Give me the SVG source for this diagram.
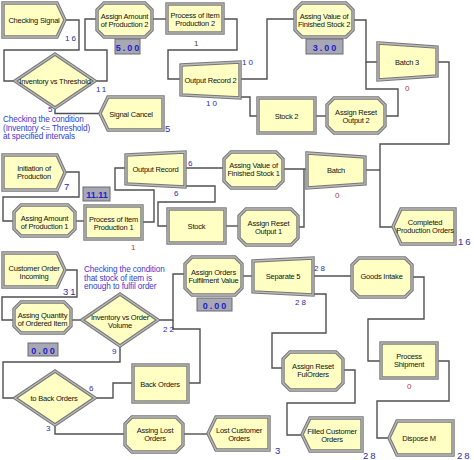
<svg xmlns="http://www.w3.org/2000/svg" width="474" height="460" viewBox="0 0 474 460">
<style>
.sh{fill:#ffffc4;stroke:#777;stroke-width:3.4;stroke-linejoin:miter}
.hl{fill:none;stroke:#bbb;stroke-width:1.3;stroke-linejoin:miter}
.t{font-family:"Liberation Sans",Arial,sans-serif;font-size:7.5px;letter-spacing:-0.2px;text-anchor:middle;fill:#111}
.cn{fill:none;stroke:#505050;stroke-width:1.4}
.n{font-family:"Liberation Sans",Arial,sans-serif;font-size:8px;fill:#2b2ba6;letter-spacing:2px}
.nb{font-size:9.5px}
.r{fill:#b83a32}
.an{font-family:"Liberation Sans",Arial,sans-serif;font-size:8.2px;fill:#3a3ad0;letter-spacing:-0.1px}
.vb{fill:#a8a8b4;stroke:#6a6a74;stroke-width:1}
.vt{font-family:"Liberation Sans",Arial,sans-serif;font-size:9px;font-weight:bold;fill:#2222c8;letter-spacing:2px;text-anchor:middle}
</style>
<rect width="474" height="460" fill="#ffffff"/>
<g id="connectors">
<path class="cn" d="M65,20 H79 V50 H4 V81 H15"/>
<path class="cn" d="M95,81 H107 V50 H85 V19 H97"/>
<path class="cn" d="M55,108 V113.5 H100"/>
<path class="cn" d="M152,19 H167"/>
<path class="cn" d="M223,19 H237 V50 H168 V79 H181"/>
<path class="cn" d="M240,79 H267 V19 H295"/>
<path class="cn" d="M240,97 H250 V116 H258"/>
<path class="cn" d="M315,116 H327"/>
<path class="cn" d="M353,20 H366 V62 H378"/>
<path class="cn" d="M385,116 H398 V89 H366 V62"/>
<path class="cn" d="M437,62 H449 V144 H380 V227 H393"/>
<path class="cn" d="M365,170 H380"/>
<path class="cn" d="M65,172 H79 V197 H3 V221 H14"/>
<path class="cn" d="M75,221 H85"/>
<path class="cn" d="M142,222 H154 V190 H115 V168 H126"/>
<path class="cn" d="M185,168 H224"/>
<path class="cn" d="M185,186 H215 V202 H158 V226 H168"/>
<path class="cn" d="M283,169 H307 M304,169 V227 H298"/>
<path class="cn" d="M225,226 H239"/>
<path class="cn" d="M65,270 H77 V297 H2 V320 H14"/>
<path class="cn" d="M71,320 H82"/>
<path class="cn" d="M158,320 H173 V274 H185"/>
<path class="cn" d="M188,383 H200 V329 H173 V320"/>
<path class="cn" d="M120,346 V362 H3 V398 H15"/>
<path class="cn" d="M95,398 H113 V383 H133"/>
<path class="cn" d="M55,425 V434 H125"/>
<path class="cn" d="M183,434 H208"/>
<path class="cn" d="M242,276 H253"/>
<path class="cn" d="M313,276 H352"/>
<path class="cn" d="M313,294 H326 V333 H272 V368 H283"/>
<path class="cn" d="M412,277 H424 V319 H368 V361 H381"/>
<path class="cn" d="M437,361 H449 V401 H377 V438 H389"/>
<path class="cn" d="M343,370 H355 V403 H287 V435 H302"/>
</g>

<g id="checking-signal"><polygon class="sh" points="3,3 57,3 65,20 57,37 3,37"/><polygon class="hl" points="3,3 57,3 65,20 57,37 3,37"/><text class="t" x="34" y="22.7">Checking Signal</text></g>
<g id="assign-amount-2"><polygon class="sh" points="104,3 145,3 152,10 152,30 145,37 104,37 97,30 97,10"/><polygon class="hl" points="104,3 145,3 152,10 152,30 145,37 104,37 97,30 97,10"/><text class="t"><tspan x="124.5" y="19.4">Assign Amount</tspan><tspan x="124.5" y="27">of Production 2</tspan></text></g>
<g id="process-2"><rect class="sh" x="167" y="4" width="56" height="29"/><rect class="hl" x="167" y="4" width="56" height="29"/><text class="t"><tspan x="195" y="18.4">Process of Item</tspan><tspan x="195" y="26">Production 2</tspan></text></g>
<g id="value-stock-2"><polygon class="sh" points="302,3 346,3 353,10 353,30 346,37 302,37 295,30 295,10"/><polygon class="hl" points="302,3 346,3 353,10 353,30 346,37 302,37 295,30 295,10"/><text class="t"><tspan x="324" y="18.9">Assing Value of</tspan><tspan x="324" y="26.5">Finished Stock 2</tspan></text></g>
<g id="output-record-2"><polygon class="sh" points="181,65 240,62 240,98 181,95"/><polygon class="hl" points="181,65 240,62 240,98 181,95"/><text class="t" x="210.5" y="82.5">Output Record 2</text></g>
<g id="batch-3"><polygon class="sh" points="378,43 437,47 437,76 378,80"/><polygon class="hl" points="378,43 437,47 437,76 378,80"/><text class="t" x="407" y="64.5">Batch 3</text></g>
<g id="inv-threshold"><polygon class="sh" points="15,81 55,54 95,81 55,108"/><polygon class="hl" points="15,81 55,54 95,81 55,108"/><text class="t" x="55" y="84">Inventory vs Threshold</text></g>
<g id="signal-cancel"><polygon class="sh" points="108,97 163,97 163,130 108,130 100,113.5"/><polygon class="hl" points="108,97 163,97 163,130 108,130 100,113.5"/><text class="t" x="131" y="116.5">Signal Cancel</text></g>
<g id="stock-2"><rect class="sh" x="258" y="98" width="57" height="35"/><rect class="hl" x="258" y="98" width="57" height="35"/><text class="t" x="286.5" y="118.5">Stock 2</text></g>
<g id="reset-output-2"><polygon class="sh" points="334,98 378,98 385,105 385,126 378,133 334,133 327,126 327,105"/><polygon class="hl" points="334,98 378,98 385,105 385,126 378,133 334,133 327,126 327,105"/><text class="t"><tspan x="356" y="114.9">Assign Reset</tspan><tspan x="356" y="122.5">Output 2</tspan></text></g>
<g id="initiation"><polygon class="sh" points="3,155 57,155 65,172.5 57,190 3,190"/><polygon class="hl" points="3,155 57,155 65,172.5 57,190 3,190"/><text class="t"><tspan x="34" y="170.9">Initiation of</tspan><tspan x="34" y="178.5">Production</tspan></text></g>
<g id="output-record"><polygon class="sh" points="126,155 185,152 185,187 126,184"/><polygon class="hl" points="126,155 185,152 185,187 126,184"/><text class="t" x="155.5" y="172">Output Record</text></g>
<g id="value-stock-1"><polygon class="sh" points="231,152 276,152 283,159 283,181 276,188 231,188 224,181 224,159"/><polygon class="hl" points="231,152 276,152 283,159 283,181 276,188 231,188 224,181 224,159"/><text class="t"><tspan x="253.5" y="168.4">Assing Value of</tspan><tspan x="253.5" y="176">Finished Stock 1</tspan></text></g>
<g id="batch"><polygon class="sh" points="307,153 365,157 365,184 307,188"/><polygon class="hl" points="307,153 365,157 365,184 307,188"/><text class="t" x="336" y="172.5">Batch</text></g>
<g id="assign-amount-1"><polygon class="sh" points="21,205 68,205 75,212 75,229 68,236 21,236 14,229 14,212"/><polygon class="hl" points="21,205 68,205 75,212 75,229 68,236 21,236 14,229 14,212"/><text class="t"><tspan x="44.5" y="220.9">Assing Amount</tspan><tspan x="44.5" y="228.5">of Production 1</tspan></text></g>
<g id="process-1"><rect class="sh" x="85" y="206" width="57" height="33"/><rect class="hl" x="85" y="206" width="57" height="33"/><text class="t"><tspan x="113.5" y="221.9">Process of Item</tspan><tspan x="113.5" y="229.5">Production 1</tspan></text></g>
<g id="stock"><rect class="sh" x="168" y="209" width="57" height="34"/><rect class="hl" x="168" y="209" width="57" height="34"/><text class="t" x="196.5" y="229">Stock</text></g>
<g id="reset-output-1"><polygon class="sh" points="246,209 291,209 298,216 298,238 291,245 246,245 239,238 239,216"/><polygon class="hl" points="246,209 291,209 298,216 298,238 291,245 246,245 239,238 239,216"/><text class="t"><tspan x="268.5" y="226.4">Assign Reset</tspan><tspan x="268.5" y="234">Output 1</tspan></text></g>
<g id="completed-orders"><polygon class="sh" points="401,209 455,209 455,244 401,244 393,226.5"/><polygon class="hl" points="401,209 455,209 455,244 401,244 393,226.5"/><text class="t"><tspan x="425" y="224.9">Completed</tspan><tspan x="425" y="232.5">Production Orders</tspan></text></g>
<g id="customer-order"><polygon class="sh" points="3,253 57,253 65,270 57,287 3,287"/><polygon class="hl" points="3,253 57,253 65,270 57,287 3,287"/><text class="t"><tspan x="34" y="270.9">Customer Order</tspan><tspan x="34" y="278.5">Incoming</tspan></text></g>
<g id="assign-quantity"><polygon class="sh" points="21,302 64,302 71,309 71,326 64,333 21,333 14,326 14,309"/><polygon class="hl" points="21,302 64,302 71,309 71,326 64,333 21,333 14,326 14,309"/><text class="t"><tspan x="42.5" y="317.9">Assing Quantity</tspan><tspan x="42.5" y="325.5">of Ordered Item</tspan></text></g>
<g id="inv-order"><polygon class="sh" points="82,320 120,294 158,320 120,346"/><polygon class="hl" points="82,320 120,294 158,320 120,346"/><text class="t"><tspan x="120" y="319.9">Inventory vs Order</tspan><tspan x="120" y="327.5">Volume</tspan></text></g>
<g id="assign-fulfilment"><polygon class="sh" points="192,257 235,257 242,264 242,288 235,295 192,295 185,288 185,264"/><polygon class="hl" points="192,257 235,257 242,264 242,288 235,295 192,295 185,288 185,264"/><text class="t"><tspan x="213.5" y="274.9">Assign Orders</tspan><tspan x="213.5" y="282.5">Fulfilment Value</tspan></text></g>
<g id="separate-5"><polygon class="sh" points="253,261 313,258 313,295 253,292"/><polygon class="hl" points="253,261 313,258 313,295 253,292"/><text class="t" x="283" y="279">Separate 5</text></g>
<g id="goods-intake"><polygon class="sh" points="359,258 405,258 412,265 412,290 405,297 359,297 352,290 352,265"/><polygon class="hl" points="359,258 405,258 412,265 412,290 405,297 359,297 352,290 352,265"/><text class="t" x="381.5" y="279">Goods Intake</text></g>
<g id="reset-fulorders"><polygon class="sh" points="290,352 336,352 343,359 343,383 336,390 290,390 283,383 283,359"/><polygon class="hl" points="290,352 336,352 343,359 343,383 336,390 290,390 283,383 283,359"/><text class="t"><tspan x="313" y="369.4">Assign Reset</tspan><tspan x="313" y="377">FulOrders</tspan></text></g>
<g id="process-shipment"><rect class="sh" x="381" y="343" width="56" height="35"/><rect class="hl" x="381" y="343" width="56" height="35"/><text class="t"><tspan x="409" y="359.4">Process</tspan><tspan x="409" y="367">Shipment</tspan></text></g>
<g id="to-back-orders"><polygon class="sh" points="15,398 55,371 95,398 55,425"/><polygon class="hl" points="15,398 55,371 95,398 55,425"/><text class="t" x="54" y="401">to Back Orders</text></g>
<g id="back-orders"><rect class="sh" x="133" y="365" width="55" height="37"/><rect class="hl" x="133" y="365" width="55" height="37"/><text class="t" x="160" y="386.5">Back Orders</text></g>
<g id="assign-lost"><polygon class="sh" points="132,417 176,417 183,424 183,445 176,452 132,452 125,445 125,424"/><polygon class="hl" points="132,417 176,417 183,424 183,445 176,452 132,452 125,445 125,424"/><text class="t"><tspan x="155" y="432.9">Assing Lost</tspan><tspan x="155" y="440.5">Orders</tspan></text></g>
<g id="lost-orders"><polygon class="sh" points="216,417 269,417 269,450 216,450 208,433.5"/><polygon class="hl" points="216,417 269,417 269,450 216,450 208,433.5"/><text class="t"><tspan x="239" y="432.9">Lost Customer</tspan><tspan x="239" y="440.5">Orders</tspan></text></g>
<g id="filled-orders"><polygon class="sh" points="310,418 362,418 362,451 310,451 302,434.5"/><polygon class="hl" points="310,418 362,418 362,451 310,451 302,434.5"/><text class="t"><tspan x="332" y="433.9">Filled Customer</tspan><tspan x="332" y="441.5">Orders</tspan></text></g>
<g id="dispose-m"><polygon class="sh" points="397,421 453,421 453,455 397,455 389,438"/><polygon class="hl" points="397,421 453,421 453,455 397,455 389,438"/><text class="t" x="419" y="441">Dispose M</text></g>

<g id="values">
<rect class="vb" x="115" y="39" width="25" height="15"/><text class="vt" x="128.5" y="50.5">5.00</text>
<rect class="vb" x="306" y="39" width="37" height="15"/><text class="vt" x="325.5" y="50.5">3.00</text>
<rect class="vb" x="83" y="187" width="27" height="14"/><text class="vt" x="97" y="198" style="letter-spacing:0">11.11</text>
<rect class="vb" x="28" y="343" width="30" height="13"/><text class="vt" x="44" y="353.5">0.00</text>
<rect class="vb" x="197" y="298" width="35" height="13"/><text class="vt" x="215.5" y="308.5">0.00</text>
</g>
<g id="counters">
<text class="n" x="65" y="40.5">16</text>
<text class="n" x="96" y="92">11</text>
<text class="n" x="48" y="111.5">5</text>
<text class="n nb" x="165" y="131.5">5</text>
<text class="n" x="194" y="45.5" style="fill:#444">1</text>
<text class="n" x="242" y="65">10</text>
<text class="n" x="206" y="106">10</text>
<text class="n r" x="405" y="90.5">0</text>
<text class="n nb" x="64" y="190">7</text>
<text class="n" x="188" y="166">6</text>
<text class="n" x="174" y="195.5">6</text>
<text class="n r" x="131" y="250">1</text>
<text class="n r" x="335" y="198">0</text>
<text class="n nb" x="458" y="245">16</text>
<text class="n nb" x="63" y="294.5">31</text>
<text class="n" x="163" y="332">22</text>
<text class="n" x="112" y="353.5">9</text>
<text class="n" x="314" y="271">28</text>
<text class="n" x="295" y="304.5">28</text>
<text class="n r" x="407" y="389">0</text>
<text class="n" x="89" y="391">6</text>
<text class="n" x="46" y="431">3</text>
<text class="n nb" x="275" y="454">3</text>
<text class="n nb" x="363" y="459">28</text>
<text class="n nb" x="457" y="459">28</text>
</g>
<g id="annotations">
<text class="an"><tspan x="3" y="122">Checking the condition</tspan><tspan x="3" y="130.5">(Inventory &lt;= Threshold)</tspan><tspan x="3" y="139">at specified intervals</tspan></text>
<text class="an"><tspan x="84" y="272">Checking the condition</tspan><tspan x="84" y="280.5">that stock of item is</tspan><tspan x="84" y="289">enough to fulfil order</tspan></text>
</g>
</svg>
